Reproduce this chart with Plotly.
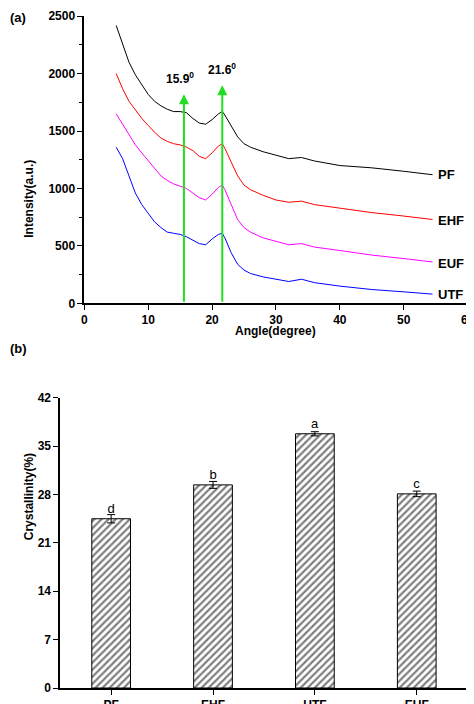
import plotly.graph_objects as go

# XRD curves (a)
angle = [5, 6, 7, 8, 9, 10, 11, 12, 13, 14, 15, 16, 17, 18, 19, 20, 21, 21.6, 22, 23, 24, 25, 26, 28, 30, 32, 34, 36, 40, 45, 50, 54.5]
pf = [2420, 2250, 2100, 1990, 1900, 1820, 1760, 1720, 1690, 1670, 1670, 1660, 1610, 1570, 1560, 1600, 1650, 1670, 1640, 1550, 1450, 1390, 1360, 1320, 1290, 1260, 1270, 1240, 1200, 1180, 1150, 1120]
ehf = [2000, 1870, 1760, 1680, 1610, 1550, 1490, 1440, 1410, 1390, 1380, 1360, 1330, 1280, 1260, 1310, 1370, 1390, 1350, 1230, 1110, 1030, 990, 940, 900, 880, 890, 860, 830, 790, 760, 730]
euf = [1650, 1560, 1460, 1380, 1310, 1240, 1170, 1110, 1070, 1040, 1020, 1000, 960, 920, 900, 950, 1010, 1030, 990, 860, 730, 660, 620, 570, 540, 510, 520, 490, 460, 420, 390, 360]
utf = [1360, 1260, 1110, 960, 860, 780, 710, 660, 620, 610, 600, 580, 550, 520, 510, 560, 600, 610, 570, 440, 340, 290, 260, 230, 210, 190, 210, 180, 150, 120, 100, 80]

# crystallinity (b)
samples = ["PF", "EHF", "UTF", "EUF"]
cryst = [24.5, 29.4, 36.8, 28.1]
cryst_err = [0.6, 0.5, 0.3, 0.4]
letters = ["d", "b", "a", "c"]

peaks = [15.6, 21.6]
peak_labels = ["15.9<sup>0</sup>", "21.6<sup>0</sup>"]
peak_tops = [1820, 1900]

fig = go.Figure()
for name, ys, col, ly in [("PF", pf, "black", 1120), ("EHF", ehf, "red", 720),
                          ("EUF", euf, "magenta", 350), ("UTF", utf, "blue", 80)]:
    fig.add_trace(go.Scatter(x=angle, y=ys, mode="lines", line=dict(color=col, width=1),
                             xaxis="x", yaxis="y", showlegend=False))
    fig.add_annotation(x=55, y=ly, text="<b>%s</b>" % name, showarrow=False, xanchor="left",
                       xref="x", yref="y", font=dict(size=13, color="black"))

for px_, lab, top in zip(peaks, peak_labels, peak_tops):
    fig.add_annotation(x=px_, y=top, ax=px_, ay=0, xref="x", yref="y", axref="x", ayref="y",
                       showarrow=True, arrowhead=2, arrowsize=1, arrowwidth=2, arrowcolor="#22dd22",
                       text="")
    fig.add_annotation(x=px_, y=top, xref="x", yref="y", text="<b>%s</b>" % lab, showarrow=False,
                       yanchor="bottom", yshift=6, xshift=-4 if px_ < 20 else 0,
                       font=dict(size=12, color="black"))

fig.add_trace(go.Bar(x=samples, y=cryst, xaxis="x2", yaxis="y2", width=0.38,
                     marker=dict(color="white", line=dict(color="black", width=1),
                                 pattern=dict(shape="/", fgcolor="black", size=5, solidity=0.45)),
                     error_y=dict(type="data", array=cryst_err, color="black", thickness=1, width=4),
                     text=letters, textposition="outside", textfont=dict(size=13, color="black"),
                     cliponaxis=False, showlegend=False))

axis_common = dict(showline=True, linecolor="black", linewidth=1.5, ticks="outside",
                   tickcolor="black", tickfont=dict(size=12, color="black", family="Arial"),
                   showgrid=False, zeroline=False, automargin=False)

fig.update_layout(
    width=474, height=704, plot_bgcolor="white", paper_bgcolor="white",
    margin=dict(l=0, r=12, t=0, b=14), font=dict(family="Arial", color="black"),
    xaxis=dict(domain=[0.165, 0.995], range=[0, 60], dtick=10, anchor="y",
               tickprefix="<b>", ticksuffix="</b>", **axis_common),
    yaxis=dict(domain=[0.572, 0.988], range=[0, 2500], dtick=500, anchor="x",
               tickprefix="<b>", ticksuffix="</b>", minor=dict(ticks="outside", dtick=250, ticklen=3),
               **axis_common),
    xaxis2=dict(domain=[0.113, 0.995], anchor="y2", tickprefix="<b>", ticksuffix="</b>", **axis_common),
    yaxis2=dict(domain=[0.0145, 0.435], range=[0, 42], dtick=7, anchor="x2",
                tickprefix="<b>", ticksuffix="</b>", **axis_common),
    bargap=0.6,
)

fig.add_annotation(x=0.0, y=1.0, xref="paper", yref="paper", text="<b>(a)</b>", showarrow=False,
                   xanchor="left", yanchor="top", font=dict(size=13))
fig.add_annotation(x=0.0, y=0.52, xref="paper", yref="paper", text="<b>(b)</b>", showarrow=False,
                   xanchor="left", yanchor="top", font=dict(size=13))
fig.add_annotation(x=0.58, y=0.532, xref="paper", yref="paper", text="<b>Angle(degree)</b>",
                   showarrow=False, font=dict(size=12))
fig.add_annotation(x=0.026, y=0.783, xref="paper", yref="paper", text="<b>Intensity(a.u.)</b>",
                   showarrow=False, textangle=-90, font=dict(size=12))
fig.add_annotation(x=0.026, y=0.225, xref="paper", yref="paper", text="<b>Crystallinity(%)</b>",
                   showarrow=False, textangle=-90, font=dict(size=12))

fig.write_html("out.html")
